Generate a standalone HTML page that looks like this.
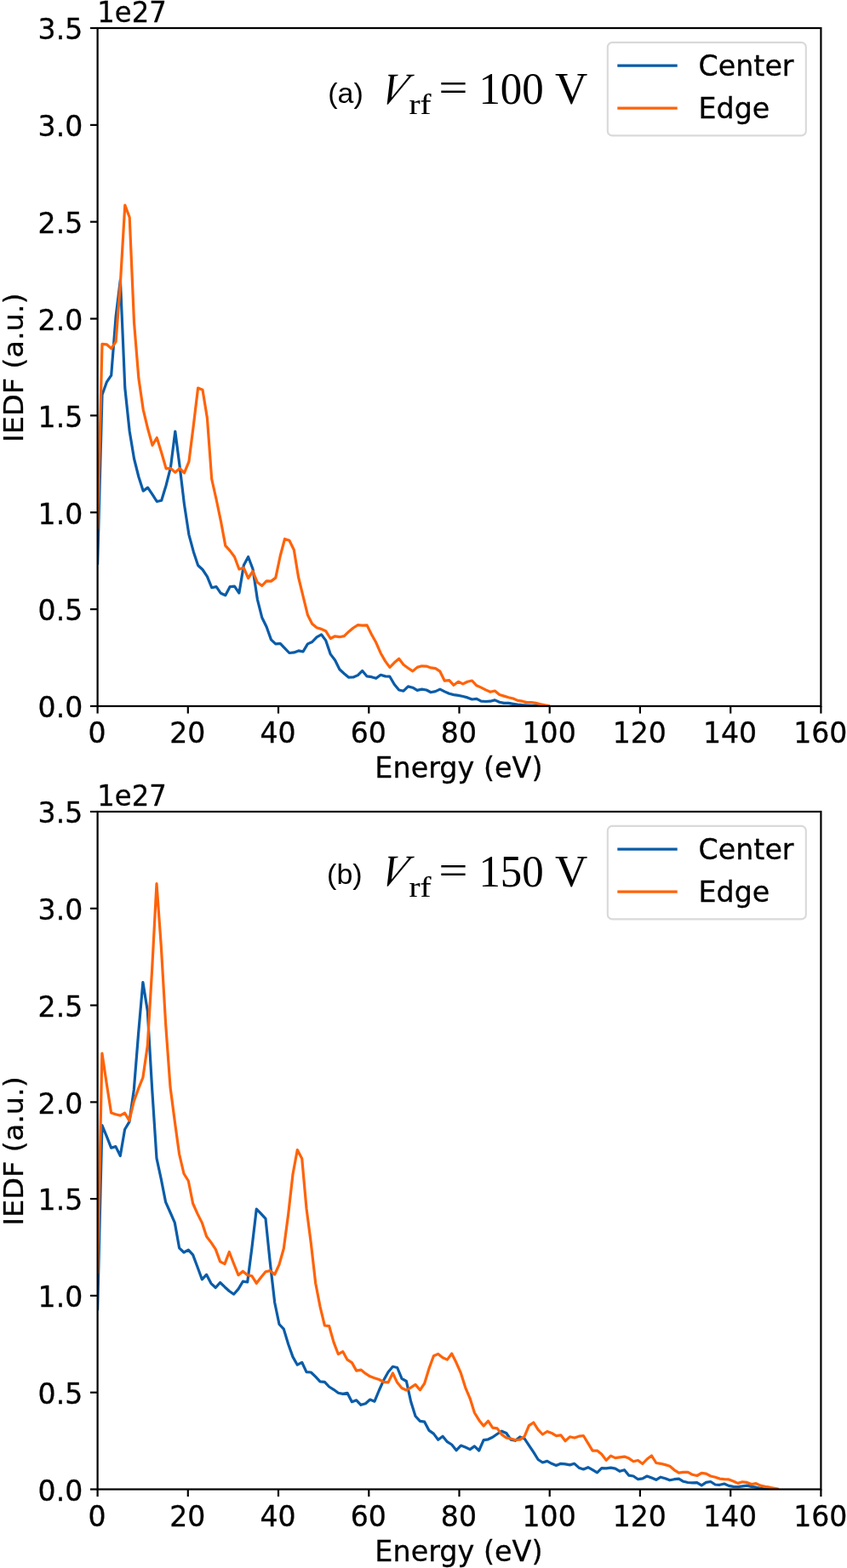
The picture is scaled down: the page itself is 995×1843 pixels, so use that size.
<!DOCTYPE html>
<html><head><meta charset="utf-8"><title>IEDF</title>
<style>
html,body{margin:0;padding:0;background:#fff}
svg{display:block}
.t{font-family:"DejaVu Sans","Liberation Sans",sans-serif;fill:#000;stroke:#000;stroke-width:0.3px}
.a{font-family:"Liberation Sans",sans-serif;font-size:34px;fill:#000}
.m{font-family:"Liberation Serif",serif;font-size:53px;fill:#000}
.mi{font-family:"Liberation Serif",serif;font-size:52.5px;font-style:italic;fill:#000}
.ms{font-family:"Liberation Serif",serif;font-size:33px;fill:#000;stroke:#000;stroke-width:0.15px}
</style></head><body>
<svg width="995" height="1843" viewBox="0 0 995 1843">
<rect width="995" height="1843" fill="#fff"/>
<g>
<clipPath id="ca"><rect x="114.6" y="33.0" width="849.8" height="797.0"/></clipPath>
<g clip-path="url(#ca)">
<polyline points="114.6,663.8 120.0,464.0 125.3,449.2 130.7,441.2 136.1,372.0 141.4,329.0 146.8,456.0 152.2,507.0 157.5,539.0 162.9,560.5 168.2,577.1 173.6,573.1 179.0,581.1 184.3,589.5 189.7,588.3 195.1,570.5 200.4,549.7 205.8,507.0 211.2,548.7 216.5,593.1 221.9,628.3 227.3,648.4 232.6,664.5 238.0,669.5 243.4,677.6 248.7,690.7 254.1,689.6 259.4,697.3 264.8,699.7 270.2,689.6 275.5,689.2 280.9,697.0 286.3,664.4 291.6,654.5 297.0,668.8 302.4,704.6 307.7,725.7 313.1,736.8 318.5,751.9 323.8,756.9 329.2,756.3 334.5,761.9 339.9,767.5 345.3,766.9 350.6,764.9 356.0,765.9 361.4,756.9 366.7,754.5 372.1,748.8 377.5,745.8 382.8,752.9 388.2,768.9 393.6,776.0 398.9,786.8 404.3,791.7 409.7,796.2 415.0,796.0 420.4,793.6 425.7,788.4 431.1,794.9 436.5,795.7 441.8,797.3 447.2,793.3 452.6,794.9 457.9,795.2 463.3,804.5 468.7,811.0 474.0,812.2 479.4,806.9 484.8,808.2 490.1,811.4 495.5,810.1 500.9,811.0 506.2,813.7 511.6,812.6 516.9,810.1 522.3,812.9 527.7,815.3 533.0,816.6 538.4,817.4 543.8,818.5 549.1,819.9 554.5,822.0 559.9,821.3 565.2,824.2 570.6,824.5 576.0,824.2 581.3,822.9 586.7,825.3 592.0,826.4 597.4,826.4 602.8,827.3 608.1,828.1 613.5,828.7 618.9,829.0 624.2,829.3 629.6,829.5 635.0,829.6 640.3,829.7 645.7,829.8" fill="none" stroke="#0a5ca8" stroke-width="3.2" stroke-linejoin="round"/>
<polyline points="114.6,621.7 120.0,404.3 125.3,404.8 130.7,409.6 136.1,401.6 141.4,332.6 146.8,241.0 152.2,255.5 157.5,378.8 162.9,444.8 168.2,481.3 173.6,503.8 179.0,523.3 184.3,514.5 189.7,532.0 195.1,550.8 200.4,550.4 205.8,555.2 211.2,550.4 216.5,555.8 221.9,542.7 227.3,500.0 232.6,456.0 238.0,458.2 243.4,491.2 248.7,563.0 254.1,587.0 259.4,612.3 264.8,641.4 270.2,647.4 275.5,654.5 280.9,669.0 286.3,667.4 291.6,679.7 297.0,671.5 302.4,684.5 307.7,688.5 313.1,682.9 318.5,683.1 323.8,679.1 329.2,653.5 334.5,633.5 339.9,635.3 345.3,646.3 350.6,678.5 356.0,700.6 361.4,722.7 366.7,733.2 372.1,737.8 377.5,739.4 382.8,741.8 388.2,750.5 393.6,747.8 398.9,748.7 404.3,747.6 409.7,742.4 415.0,738.0 420.4,734.7 425.7,735.1 431.1,734.9 436.5,745.8 441.8,755.3 447.2,767.7 452.6,777.1 457.9,784.4 463.3,778.8 468.7,774.2 474.0,781.2 479.4,785.2 484.8,788.9 490.1,784.4 495.5,782.8 500.9,783.1 506.2,784.9 511.6,785.7 516.9,789.2 522.3,800.2 527.7,799.7 533.0,805.3 538.4,801.3 543.8,803.9 549.1,801.2 554.5,800.0 559.9,805.8 565.2,808.1 570.6,810.9 576.0,813.3 581.3,812.0 586.7,816.5 592.0,818.1 597.4,819.7 602.8,821.0 608.1,823.4 613.5,824.2 618.9,825.6 624.2,825.6 629.6,826.4 635.0,827.7 640.3,828.9 645.7,829.8" fill="none" stroke="#ff6308" stroke-width="3.2" stroke-linejoin="round"/>
</g>
<rect x="114.6" y="33.0" width="849.8" height="797.0" fill="none" stroke="#000" stroke-width="2.2"/>
<line x1="114.6" y1="830.0" x2="114.6" y2="838.6" stroke="#000" stroke-width="2.2"/>
<text transform="translate(114.00,873.30) scale(0.985,1)" text-anchor="middle" class="t" font-size="33.6">0</text>
<line x1="220.8" y1="830.0" x2="220.8" y2="838.6" stroke="#000" stroke-width="2.2"/>
<text transform="translate(220.22,873.30) scale(0.985,1)" text-anchor="middle" class="t" font-size="33.6">20</text>
<line x1="327.0" y1="830.0" x2="327.0" y2="838.6" stroke="#000" stroke-width="2.2"/>
<text transform="translate(326.45,873.30) scale(0.985,1)" text-anchor="middle" class="t" font-size="33.6">40</text>
<line x1="433.3" y1="830.0" x2="433.3" y2="838.6" stroke="#000" stroke-width="2.2"/>
<text transform="translate(432.67,873.30) scale(0.985,1)" text-anchor="middle" class="t" font-size="33.6">60</text>
<line x1="539.5" y1="830.0" x2="539.5" y2="838.6" stroke="#000" stroke-width="2.2"/>
<text transform="translate(538.90,873.30) scale(0.985,1)" text-anchor="middle" class="t" font-size="33.6">80</text>
<line x1="645.7" y1="830.0" x2="645.7" y2="838.6" stroke="#000" stroke-width="2.2"/>
<text transform="translate(645.12,873.30) scale(0.985,1)" text-anchor="middle" class="t" font-size="33.6">100</text>
<line x1="751.9" y1="830.0" x2="751.9" y2="838.6" stroke="#000" stroke-width="2.2"/>
<text transform="translate(751.35,873.30) scale(0.985,1)" text-anchor="middle" class="t" font-size="33.6">120</text>
<line x1="858.2" y1="830.0" x2="858.2" y2="838.6" stroke="#000" stroke-width="2.2"/>
<text transform="translate(857.57,873.30) scale(0.985,1)" text-anchor="middle" class="t" font-size="33.6">140</text>
<line x1="964.4" y1="830.0" x2="964.4" y2="838.6" stroke="#000" stroke-width="2.2"/>
<text transform="translate(963.80,873.30) scale(0.985,1)" text-anchor="middle" class="t" font-size="33.6">160</text>
<line x1="114.6" y1="830.0" x2="106.0" y2="830.0" stroke="#000" stroke-width="2.2"/>
<text transform="translate(97.20,843.30) scale(0.985,1)" text-anchor="end" class="t" font-size="33.6">0.0</text>
<line x1="114.6" y1="716.1" x2="106.0" y2="716.1" stroke="#000" stroke-width="2.2"/>
<text transform="translate(97.20,729.44) scale(0.985,1)" text-anchor="end" class="t" font-size="33.6">0.5</text>
<line x1="114.6" y1="602.3" x2="106.0" y2="602.3" stroke="#000" stroke-width="2.2"/>
<text transform="translate(97.20,615.59) scale(0.985,1)" text-anchor="end" class="t" font-size="33.6">1.0</text>
<line x1="114.6" y1="488.4" x2="106.0" y2="488.4" stroke="#000" stroke-width="2.2"/>
<text transform="translate(97.20,501.73) scale(0.985,1)" text-anchor="end" class="t" font-size="33.6">1.5</text>
<line x1="114.6" y1="374.6" x2="106.0" y2="374.6" stroke="#000" stroke-width="2.2"/>
<text transform="translate(97.20,387.87) scale(0.985,1)" text-anchor="end" class="t" font-size="33.6">2.0</text>
<line x1="114.6" y1="260.7" x2="106.0" y2="260.7" stroke="#000" stroke-width="2.2"/>
<text transform="translate(97.20,274.01) scale(0.985,1)" text-anchor="end" class="t" font-size="33.6">2.5</text>
<line x1="114.6" y1="146.9" x2="106.0" y2="146.9" stroke="#000" stroke-width="2.2"/>
<text transform="translate(97.20,160.16) scale(0.985,1)" text-anchor="end" class="t" font-size="33.6">3.0</text>
<line x1="114.6" y1="33.0" x2="106.0" y2="33.0" stroke="#000" stroke-width="2.2"/>
<text transform="translate(97.20,46.30) scale(0.985,1)" text-anchor="end" class="t" font-size="33.6">3.5</text>
<text transform="translate(114.30,26.10) scale(0.96,1)" text-anchor="start" class="t" font-size="33.6">1e27</text>
<text transform="translate(538.90,913.60) scale(0.995,1)" text-anchor="middle" class="t" font-size="33.6">Energy (eV)</text>
<text transform="translate(26.70,432.30) rotate(-90) scale(1.025,1)" text-anchor="middle" class="t" font-size="32.6">IEDF (a.u.)</text>
<rect x="713.8" y="49.9" width="233.0" height="109.5" rx="5.5" fill="#fff" fill-opacity="0.8" stroke="#d9d9d9" stroke-width="2.1"/>
<line x1="725.3" y1="77.1" x2="795.7" y2="77.1" stroke="#0a5ca8" stroke-width="3.2"/>
<line x1="725.3" y1="127.1" x2="795.7" y2="127.1" stroke="#ff6308" stroke-width="3.2"/>
<text transform="translate(820.60,89.20) scale(0.99,1)" text-anchor="start" class="t" font-size="33.6">Center</text>
<text transform="translate(820.60,138.60) scale(0.99,1)" text-anchor="start" class="t" font-size="33.6">Edge</text>
<text x="385.3" y="120.7" class="a">(a)</text>
<text transform="translate(442.7,121.6) skewX(-17.9) scale(0.895,1)" class="mi">V</text>
<text transform="translate(480.6,133.8) scale(1.18,1)" class="ms">rf</text>
<text transform="translate(515.3,119.2) scale(1.15,0.9)" class="m">=</text>
<text transform="translate(562.4,122.2) scale(0.96,1)" class="m">100</text>
<text x="652" y="122.2" class="m">V</text>
</g>
<g>
<clipPath id="cb"><rect x="114.6" y="954.0" width="849.8" height="796.5"/></clipPath>
<g clip-path="url(#cb)">
<polyline points="114.6,1540.3 119.9,1322.5 125.3,1335.6 130.6,1349.2 135.9,1347.6 141.3,1358.5 146.6,1327.5 151.9,1318.7 157.3,1281.0 162.6,1215.0 167.9,1154.5 173.3,1188.2 178.6,1279.0 184.0,1361.3 189.3,1385.8 194.6,1412.9 200.0,1425.0 205.3,1437.1 210.6,1466.8 216.0,1472.0 221.3,1469.2 226.6,1474.9 232.0,1489.3 237.3,1503.8 242.6,1498.2 248.0,1508.6 253.3,1513.5 258.6,1507.5 264.0,1512.7 269.3,1517.5 274.6,1521.2 280.0,1515.1 285.3,1506.2 290.7,1507.0 296.0,1466.0 301.3,1421.0 306.7,1426.7 312.0,1432.4 317.3,1484.0 322.7,1531.0 328.0,1556.5 333.3,1562.1 338.7,1580.0 344.0,1594.9 349.3,1604.2 354.7,1601.3 360.0,1612.6 365.3,1613.0 370.7,1618.2 376.0,1623.9 381.4,1624.4 386.7,1630.0 392.0,1633.3 397.4,1637.3 402.7,1638.4 408.0,1637.3 413.4,1647.7 418.7,1645.8 424.0,1651.3 429.4,1649.7 434.7,1645.0 440.0,1647.2 445.4,1634.0 450.7,1622.3 456.0,1612.8 461.4,1606.3 466.7,1607.5 472.0,1620.3 477.4,1623.5 482.7,1647.5 488.0,1664.5 493.4,1670.4 498.7,1671.2 504.1,1681.4 509.4,1685.1 514.7,1692.2 520.1,1688.2 525.4,1694.7 530.7,1698.0 536.1,1704.7 541.4,1699.1 546.7,1701.0 552.1,1703.6 557.4,1699.9 562.7,1705.0 568.1,1692.7 573.4,1691.8 578.7,1689.3 584.1,1685.5 589.4,1682.2 594.8,1684.5 600.1,1692.2 605.4,1693.3 610.8,1688.9 616.1,1690.9 621.4,1698.9 626.8,1706.9 632.1,1715.5 637.4,1719.0 642.8,1717.4 648.1,1720.3 653.4,1722.5 658.8,1720.3 664.1,1720.9 669.4,1721.9 674.8,1720.3 680.1,1725.2 685.4,1727.0 690.8,1724.7 696.1,1727.6 701.5,1730.8 706.8,1725.6 712.1,1725.8 717.5,1725.1 722.8,1726.1 728.1,1729.3 733.5,1727.7 738.8,1734.2 744.1,1735.0 749.5,1738.7 754.8,1737.9 760.1,1735.0 765.5,1737.0 770.8,1739.3 776.1,1736.2 781.5,1737.8 786.8,1739.8 792.1,1738.7 797.5,1738.1 802.8,1741.3 808.1,1742.5 813.5,1742.8 818.8,1742.6 824.2,1745.8 829.5,1742.4 834.8,1741.5 840.2,1745.0 845.5,1745.3 850.8,1744.0 856.2,1746.4 861.5,1747.4 866.8,1747.7 872.2,1746.9 877.5,1746.1 882.8,1747.4 888.2,1748.2 893.5,1749.3 898.8,1750.0 904.2,1750.2 909.5,1750.3 914.9,1750.5" fill="none" stroke="#0a5ca8" stroke-width="3.2" stroke-linejoin="round"/>
<polyline points="114.6,1497.3 119.9,1238.0 125.3,1274.0 130.6,1307.9 135.9,1309.8 141.3,1311.1 146.6,1308.2 151.9,1317.1 157.3,1294.5 162.6,1279.6 167.9,1266.5 173.3,1229.0 178.6,1140.0 184.0,1038.5 189.3,1112.0 194.6,1203.0 200.0,1277.5 205.3,1318.0 210.6,1356.5 216.0,1379.5 221.3,1388.0 226.6,1414.5 232.0,1426.6 237.3,1437.1 242.6,1453.2 248.0,1460.4 253.3,1468.4 258.6,1482.9 264.0,1485.6 269.3,1471.5 274.6,1485.3 280.0,1498.7 285.3,1494.2 290.7,1498.7 296.0,1499.8 301.3,1508.3 306.7,1501.2 312.0,1494.8 317.3,1493.6 322.7,1498.0 328.0,1486.4 333.3,1467.5 338.7,1427.0 344.0,1380.2 349.3,1351.5 354.7,1361.7 360.0,1420.4 365.3,1461.0 370.7,1508.2 376.0,1535.6 381.4,1558.0 386.7,1558.7 392.0,1577.6 397.4,1591.7 402.7,1588.6 408.0,1598.2 413.4,1601.6 418.7,1611.1 424.0,1610.1 429.4,1614.4 434.7,1617.8 440.0,1619.7 445.4,1621.5 450.7,1624.3 456.0,1624.9 461.4,1614.0 466.7,1625.1 472.0,1631.5 477.4,1634.0 482.7,1630.8 488.0,1627.4 493.4,1633.8 498.7,1626.0 504.1,1608.2 509.4,1593.8 514.7,1591.4 520.1,1595.7 525.4,1598.1 530.7,1591.0 536.1,1601.8 541.4,1613.9 546.7,1630.8 552.1,1643.6 557.4,1660.5 562.7,1669.2 568.1,1676.1 573.4,1670.2 578.7,1678.2 584.1,1678.9 589.4,1686.1 594.8,1690.0 600.1,1691.0 605.4,1692.5 610.8,1692.1 616.1,1688.4 621.4,1675.6 626.8,1672.0 632.1,1680.4 637.4,1686.0 642.8,1682.5 648.1,1684.4 653.4,1687.6 658.8,1686.8 664.1,1693.7 669.4,1688.8 674.8,1690.0 680.1,1688.2 685.4,1687.5 690.8,1696.4 696.1,1705.2 701.5,1705.0 706.8,1709.2 712.1,1716.4 717.5,1711.1 722.8,1713.6 728.1,1712.9 733.5,1712.1 738.8,1714.1 744.1,1717.8 749.5,1716.5 754.8,1720.5 760.1,1715.0 765.5,1711.0 770.8,1719.5 776.1,1720.3 781.5,1721.6 786.8,1723.2 792.1,1727.8 797.5,1731.2 802.8,1730.4 808.1,1730.3 813.5,1733.3 818.8,1734.5 824.2,1731.3 829.5,1732.1 834.8,1735.0 840.2,1736.2 845.5,1738.1 850.8,1738.6 856.2,1738.9 861.5,1741.0 866.8,1743.4 872.2,1741.8 877.5,1742.4 882.8,1744.5 888.2,1743.7 893.5,1746.1 898.8,1747.4 904.2,1748.2 909.5,1749.3 914.9,1750.4" fill="none" stroke="#ff6308" stroke-width="3.2" stroke-linejoin="round"/>
</g>
<rect x="114.6" y="954.0" width="849.8" height="796.5" fill="none" stroke="#000" stroke-width="2.2"/>
<line x1="114.6" y1="1750.5" x2="114.6" y2="1759.1" stroke="#000" stroke-width="2.2"/>
<text transform="translate(114.00,1793.80) scale(0.985,1)" text-anchor="middle" class="t" font-size="33.6">0</text>
<line x1="220.8" y1="1750.5" x2="220.8" y2="1759.1" stroke="#000" stroke-width="2.2"/>
<text transform="translate(220.22,1793.80) scale(0.985,1)" text-anchor="middle" class="t" font-size="33.6">20</text>
<line x1="327.0" y1="1750.5" x2="327.0" y2="1759.1" stroke="#000" stroke-width="2.2"/>
<text transform="translate(326.45,1793.80) scale(0.985,1)" text-anchor="middle" class="t" font-size="33.6">40</text>
<line x1="433.3" y1="1750.5" x2="433.3" y2="1759.1" stroke="#000" stroke-width="2.2"/>
<text transform="translate(432.67,1793.80) scale(0.985,1)" text-anchor="middle" class="t" font-size="33.6">60</text>
<line x1="539.5" y1="1750.5" x2="539.5" y2="1759.1" stroke="#000" stroke-width="2.2"/>
<text transform="translate(538.90,1793.80) scale(0.985,1)" text-anchor="middle" class="t" font-size="33.6">80</text>
<line x1="645.7" y1="1750.5" x2="645.7" y2="1759.1" stroke="#000" stroke-width="2.2"/>
<text transform="translate(645.12,1793.80) scale(0.985,1)" text-anchor="middle" class="t" font-size="33.6">100</text>
<line x1="751.9" y1="1750.5" x2="751.9" y2="1759.1" stroke="#000" stroke-width="2.2"/>
<text transform="translate(751.35,1793.80) scale(0.985,1)" text-anchor="middle" class="t" font-size="33.6">120</text>
<line x1="858.2" y1="1750.5" x2="858.2" y2="1759.1" stroke="#000" stroke-width="2.2"/>
<text transform="translate(857.57,1793.80) scale(0.985,1)" text-anchor="middle" class="t" font-size="33.6">140</text>
<line x1="964.4" y1="1750.5" x2="964.4" y2="1759.1" stroke="#000" stroke-width="2.2"/>
<text transform="translate(963.80,1793.80) scale(0.985,1)" text-anchor="middle" class="t" font-size="33.6">160</text>
<line x1="114.6" y1="1750.5" x2="106.0" y2="1750.5" stroke="#000" stroke-width="2.2"/>
<text transform="translate(97.20,1763.80) scale(0.985,1)" text-anchor="end" class="t" font-size="33.6">0.0</text>
<line x1="114.6" y1="1636.7" x2="106.0" y2="1636.7" stroke="#000" stroke-width="2.2"/>
<text transform="translate(97.20,1650.01) scale(0.985,1)" text-anchor="end" class="t" font-size="33.6">0.5</text>
<line x1="114.6" y1="1522.9" x2="106.0" y2="1522.9" stroke="#000" stroke-width="2.2"/>
<text transform="translate(97.20,1536.23) scale(0.985,1)" text-anchor="end" class="t" font-size="33.6">1.0</text>
<line x1="114.6" y1="1409.1" x2="106.0" y2="1409.1" stroke="#000" stroke-width="2.2"/>
<text transform="translate(97.20,1422.44) scale(0.985,1)" text-anchor="end" class="t" font-size="33.6">1.5</text>
<line x1="114.6" y1="1295.4" x2="106.0" y2="1295.4" stroke="#000" stroke-width="2.2"/>
<text transform="translate(97.20,1308.66) scale(0.985,1)" text-anchor="end" class="t" font-size="33.6">2.0</text>
<line x1="114.6" y1="1181.6" x2="106.0" y2="1181.6" stroke="#000" stroke-width="2.2"/>
<text transform="translate(97.20,1194.87) scale(0.985,1)" text-anchor="end" class="t" font-size="33.6">2.5</text>
<line x1="114.6" y1="1067.8" x2="106.0" y2="1067.8" stroke="#000" stroke-width="2.2"/>
<text transform="translate(97.20,1081.09) scale(0.985,1)" text-anchor="end" class="t" font-size="33.6">3.0</text>
<line x1="114.6" y1="954.0" x2="106.0" y2="954.0" stroke="#000" stroke-width="2.2"/>
<text transform="translate(97.20,967.30) scale(0.985,1)" text-anchor="end" class="t" font-size="33.6">3.5</text>
<text transform="translate(114.30,947.10) scale(0.96,1)" text-anchor="start" class="t" font-size="33.6">1e27</text>
<text transform="translate(538.90,1835.10) scale(0.995,1)" text-anchor="middle" class="t" font-size="33.6">Energy (eV)</text>
<text transform="translate(26.70,1353.05) rotate(-90) scale(1.025,1)" text-anchor="middle" class="t" font-size="32.6">IEDF (a.u.)</text>
<rect x="713.8" y="970.9" width="233.0" height="109.5" rx="5.5" fill="#fff" fill-opacity="0.8" stroke="#d9d9d9" stroke-width="2.1"/>
<line x1="725.3" y1="998.1" x2="795.7" y2="998.1" stroke="#0a5ca8" stroke-width="3.2"/>
<line x1="725.3" y1="1048.1" x2="795.7" y2="1048.1" stroke="#ff6308" stroke-width="3.2"/>
<text transform="translate(820.60,1010.20) scale(0.99,1)" text-anchor="start" class="t" font-size="33.6">Center</text>
<text transform="translate(820.60,1059.60) scale(0.99,1)" text-anchor="start" class="t" font-size="33.6">Edge</text>
<text x="384.1" y="1039.4" class="a">(b)</text>
<text transform="translate(442.7,1041.3) skewX(-17.9) scale(0.895,1)" class="mi">V</text>
<text transform="translate(480.6,1053.5) scale(1.18,1)" class="ms">rf</text>
<text transform="translate(515.3,1038.9) scale(1.15,0.9)" class="m">=</text>
<text transform="translate(562.4,1041.9) scale(0.96,1)" class="m">150</text>
<text x="652" y="1041.9" class="m">V</text>
</g>
</svg>
</body></html>
